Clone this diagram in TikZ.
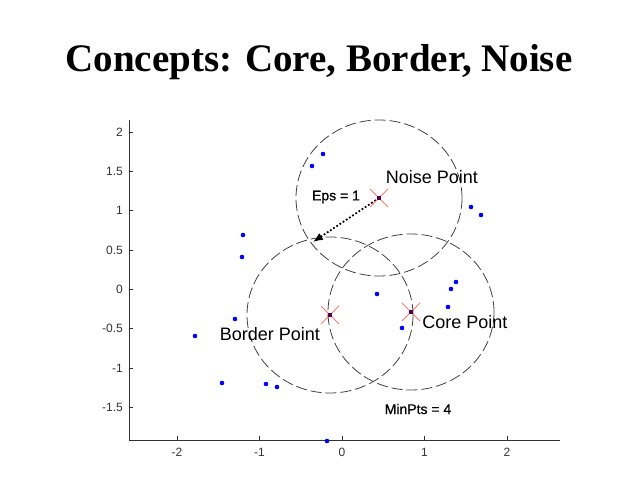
\documentclass[tikz,border=0pt]{standalone}
\usepackage{fontspec}
\usetikzlibrary{arrows.meta}
\setmainfont{Liberation Serif}
\newfontfamily\arial{Liberation Sans}
\newfontfamily\arialfake[FakeBold=0.8]{Liberation Sans}
\tikzset{
 dot/.style={circle,fill=blue,inner sep=0pt,minimum size=4.6pt},
 eps/.style={draw=black!75,dash pattern=on 11pt off 4pt,line width=0.8pt},
 lbl/.style={font=\arial\fontsize{18}{18}\selectfont,inner sep=0pt},
 sml/.style={font=\arialfake\fontsize{14}{14}\selectfont,inner sep=0pt},
 tick/.style={font=\arial\fontsize{12}{12}\selectfont,text=black!80,inner sep=0pt},
}
\newcommand{\xmark}[1]{%
 \draw[red!55,line width=0.8pt] (#1)++(-9,-9)--++(18,18) (#1)++(-9,9)--++(18,-18);
 \fill[black!40!violet] (#1) +(-2.2,-2.2) rectangle +(2.2,2.2);}
\begin{document}
\begin{tikzpicture}[x=1pt,y=-1pt]
\useasboundingbox (0,0) rectangle (638,478);
\node[font=\bfseries\fontsize{39}{40}\selectfont] (title) at (319,62) {Concepts: Core, Border, Noise};
% axes
\draw[black!80,line width=0.7pt] (129,120) -- (129,440) -- (560,440);
\foreach \v/\l in {2/2,1.5/1.5,1/1,0.5/0.5,0/0,-0.5/-0.5,-1/-1,-1.5/-1.5}{
 \draw[black!80] (129,289.3-78.7*\v) -- ++(4,0);
 \node[tick,anchor=east] at (123,289.3-78.7*\v) {\l};}
\foreach \v in {-2,-1,0,1,2}{
 \draw[black!80] (342+82.5*\v,440) -- ++(0,-4);
 \node[tick,anchor=north] at (342+82.5*\v,448) {\v};}
% circles
\coordinate (np) at (379,198);
\coordinate (bp) at (330,315);
\coordinate (cp) at (411,312);
\draw[eps] (np) ellipse [x radius=83, y radius=78];
\draw[eps] (bp) ellipse [x radius=83, y radius=78];
\draw[eps] (cp) ellipse [x radius=83, y radius=78];
% points
\foreach \p in {(323,154),(312,166),(471,207),(481,215),(243,235),(242,257),(377,294),(456,282),(451,289),(448,307),(402,328),(235,319),(195,336),(222,383),(266,384),(277,387),(327,441)}
 \node[dot] at \p {};
\coordinate (tip) at (313,242);
\draw[line width=1.8pt,dotted,-{Latex[length=10pt,width=8pt]}] (np) -- (tip);
\xmark{np}\xmark{bp}\xmark{cp}
\node[lbl] (nl) at (432,177) {Noise Point};
\node[sml] (el) at (336,197) {Eps = 1};
\node[lbl] (bl) at (270,334) {Border Point};
\node[lbl] (cl) at (465,322) {Core Point};
\node[sml] (ml) at (418,409) {MinPts = 4};
\end{tikzpicture}
\end{document}
